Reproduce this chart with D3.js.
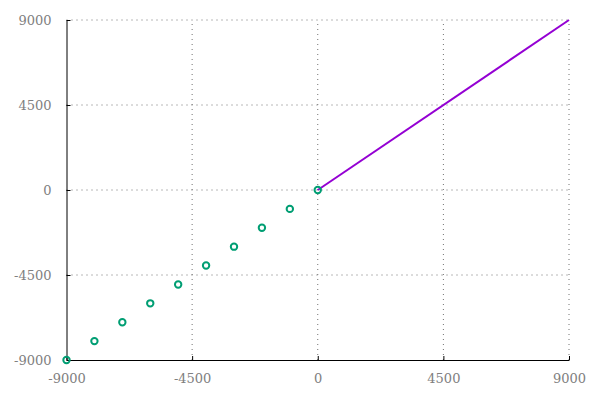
<!DOCTYPE html>
<html>
<head>
<meta charset="utf-8">
<script src="https://cdn.jsdelivr.net/npm/d3@7"></script>
<style>
  body { margin: 0; background: #fff; }
  .tick text { font-family: 'DejaVu Serif', serif; font-size: 13px; fill: #808080; }
</style>
</head>
<body>
<svg class="canvas" width="600" height="400"></svg>
<script>
'use strict';

// Points (y = x) and the line segment
const pointX = [-9000, -8000, -7000, -6000, -5000, -4000, -3000, -2000, -1000, 0];
const pointY = [-9000, -8000, -7000, -6000, -5000, -4000, -3000, -2000, -1000, 0];
const lineX = [0, 9000];
const lineY = [0, 9000];
const tickValues = [-9000, -4500, 0, 4500, 9000];

const width = 600, height = 400;
const padding = { top: 20, right: 31, bottom: 40, left: 66.5 };

const xScale = d3.scaleLinear([-9000, 9000], [padding.left, width - padding.right]);
const yScale = d3.scaleLinear([-9000, 9000], [height - padding.bottom, padding.top]);

const svg = d3.select('.canvas');

// Grid
const grid = svg.append('g').attr('class', 'grid');
grid.selectAll('line.gx')
  .data(tickValues.slice(1))
  .enter().append('line')
  .attr('x1', d => xScale(d)).attr('x2', d => xScale(d))
  .attr('y1', yScale(-9000)).attr('y2', yScale(9000));
grid.selectAll('line.gy')
  .data(tickValues.slice(1))
  .enter().append('line')
  .attr('y1', d => yScale(d)).attr('y2', d => yScale(d))
  .attr('x1', xScale(-9000)).attr('x2', xScale(9000));
grid.selectAll('line')
  .attr('stroke', '#707070')
  .attr('stroke-width', 1)
  .attr('stroke-dasharray', '1,4');

// Axes
const fmt = d => String(d);
const xAxis = d3.axisBottom(xScale).tickValues(tickValues).tickFormat(fmt).tickSize(-4).tickPadding(14).tickSizeOuter(0);
const yAxis = d3.axisLeft(yScale).tickValues(tickValues).tickFormat(fmt).tickSize(-4).tickPadding(15).tickSizeOuter(0);

svg.append('g')
  .attr('transform', `translate(0, ${yScale(-9000)})`)
  .call(xAxis)
  .call(g => g.select('.domain').attr('stroke', '#000'))
  .call(g => g.selectAll('.tick line').attr('stroke', '#000'));
svg.append('g')
  .attr('transform', `translate(${xScale(-9000)}, 0)`)
  .call(yAxis)
  .call(g => g.select('.domain').attr('stroke', '#000'))
  .call(g => g.selectAll('.tick line').attr('stroke', '#000'));

// Line
svg.append('path')
  .datum(lineX.map((x, i) => [x, lineY[i]]))
  .attr('fill', 'none')
  .attr('stroke', '#9400d3')
  .attr('stroke-width', 2)
  .attr('d', d3.line().x(d => xScale(d[0])).y(d => yScale(d[1])));

// Points
svg.selectAll('circle')
  .data(pointX.map((x, i) => [x, pointY[i]]))
  .enter().append('circle')
  .attr('cx', d => xScale(d[0]))
  .attr('cy', d => yScale(d[1]))
  .attr('r', 3.2)
  .attr('fill', 'none')
  .attr('stroke', '#009e73')
  .attr('stroke-width', 2);
</script>
</body>
</html>
